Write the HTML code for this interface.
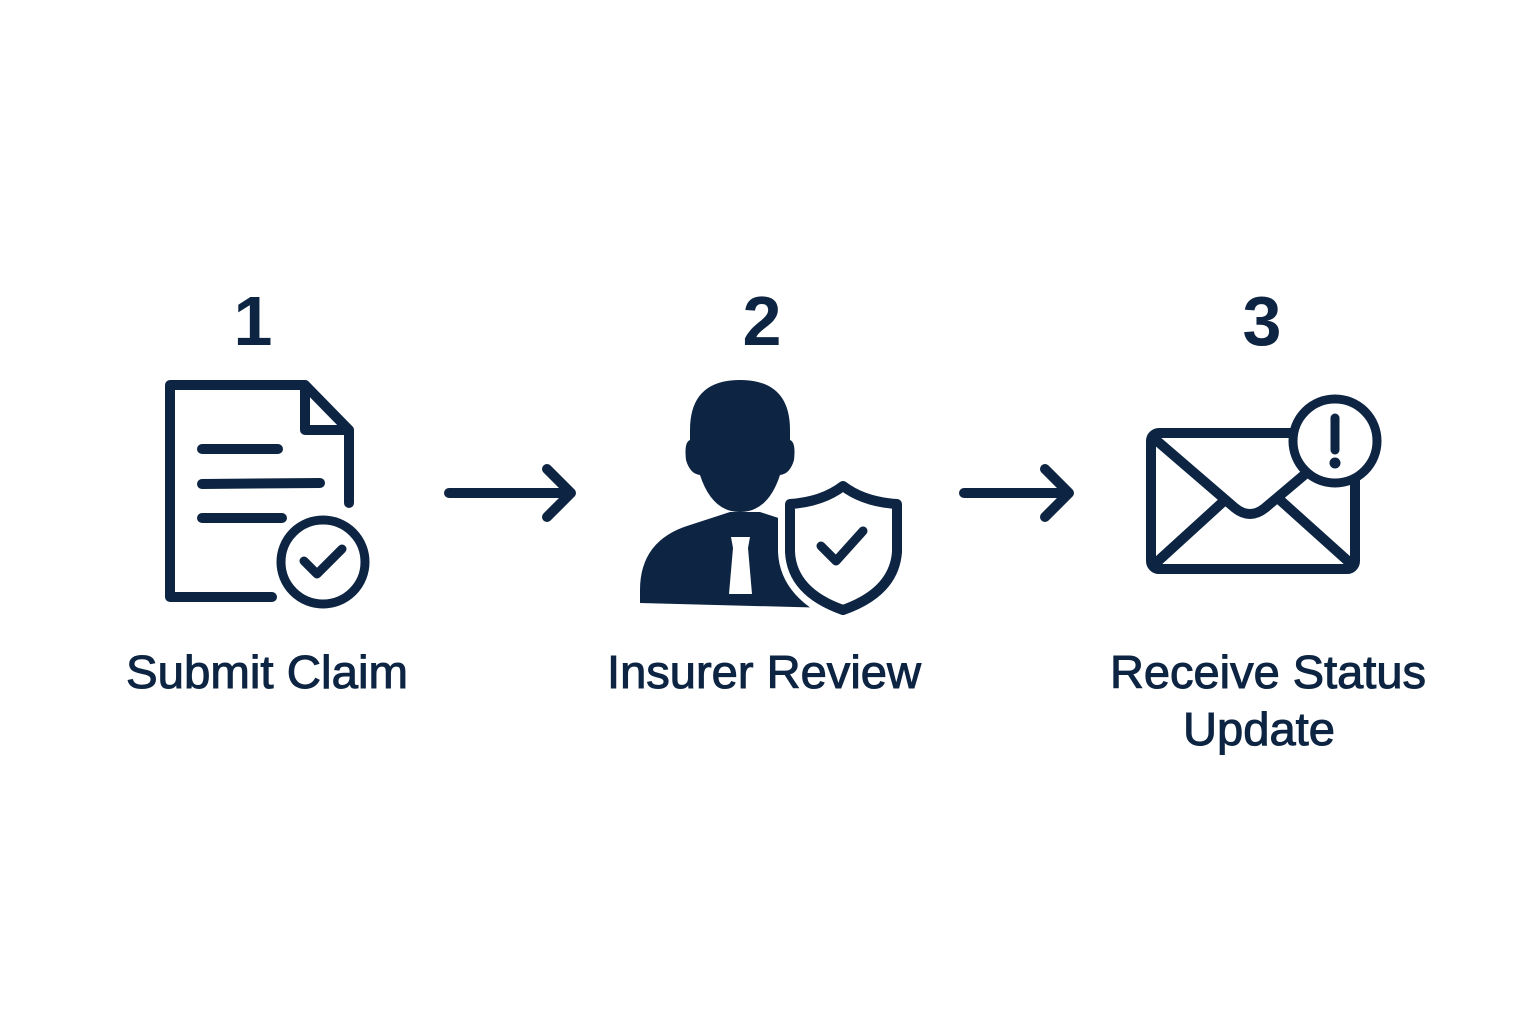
<!DOCTYPE html>
<html><head><style>html,body{margin:0;padding:0;background:#fff}svg{display:block}</style></head><body>
<svg width="1536" height="1024" viewBox="0 0 1536 1024" xmlns="http://www.w3.org/2000/svg">
<rect width="1536" height="1024" fill="#fff"/>
<g fill="#0d2542" font-family="Liberation Sans, sans-serif" font-weight="bold" font-size="70" text-anchor="middle">
<text x="253" y="345">1</text><text x="762" y="345">2</text><text x="1262" y="345">3</text>
</g>
<g fill="#0d2542" stroke="#0d2542" stroke-width="1" font-family="Liberation Sans, sans-serif" font-size="46" text-anchor="middle">
<text x="267" y="688" textLength="282" lengthAdjust="spacingAndGlyphs">Submit Claim</text>
<text x="764" y="688" textLength="314" lengthAdjust="spacingAndGlyphs">Insurer Review</text>
<text x="1268" y="688" textLength="316" lengthAdjust="spacingAndGlyphs">Receive Status</text>
<text x="1259" y="745" textLength="152" lengthAdjust="spacingAndGlyphs">Update</text>
</g>
<g stroke="#0d2542" fill="none" stroke-width="10" stroke-linecap="round" stroke-linejoin="round">
<path d="M272 597 L170 597 L170 385 L305 385 L349 430 L349 503"/>
<path d="M305 385 L305 430 L349 430"/>
<path d="M202 449 L278 449 M202 484 L320 483 M202 518 L282 518"/>
<circle cx="323" cy="562" r="42" stroke-width="9"/>
<path d="M304 561 L317 574 L342 549" stroke-width="9"/>
<path d="M449 493 L570 493 M547 469 L571 493 L547 517"/>
<path d="M964 493 L1068 493 M1045 469 L1069 493 L1045 517"/>
<rect x="1151" y="433" width="204" height="136" rx="8"/>
<path d="M1156 440 L1235 508 Q1250 520 1265 508 L1310 470"/>
<path d="M1157 562 L1225 500 M1349 562 L1280 500"/>
</g>
<circle cx="1335" cy="441" r="42" fill="#fff" stroke="#0d2542" stroke-width="9"/>
<path d="M1335 418 L1335 450" stroke="#0d2542" stroke-width="9" stroke-linecap="round"/>
<circle cx="1335" cy="463" r="5.5" fill="#0d2542"/>
<g fill="#0d2542">
<path d="M640 590 Q640 540 690 525 L730 512 L760 512 L800 525 Q830 540 832 600 L832 608 L640 603 Z"/>
<path d="M740 380 Q690 380 690 430 L690 440 Q684 442 686 460 Q690 474 700 475 Q712 512 740 512 Q768 512 780 475 Q790 474 794 460 Q796 442 790 440 L790 430 Q790 380 740 380 Z"/>
</g>
<path d="M731 537 L750 537 L748 548 L752 594 L729 594 L733 548 Z" fill="#fff"/>
<path d="M843 472 Q818 492 778 494 L778 552 Q780 600 843 625 Q906 600 910 552 L910 494 Q868 492 843 472 Z" fill="#fff"/>
<path d="M843 486 Q822 502 790 504 L790 552 Q792 592 843 610 Q894 592 897 552 L897 504 Q864 502 843 486 Z" fill="none" stroke="#0d2542" stroke-width="10" stroke-linejoin="round"/>
<path d="M821 546 L836 561 L863 531" fill="none" stroke="#0d2542" stroke-width="9" stroke-linecap="round" stroke-linejoin="round"/>
</svg>
</body></html>
